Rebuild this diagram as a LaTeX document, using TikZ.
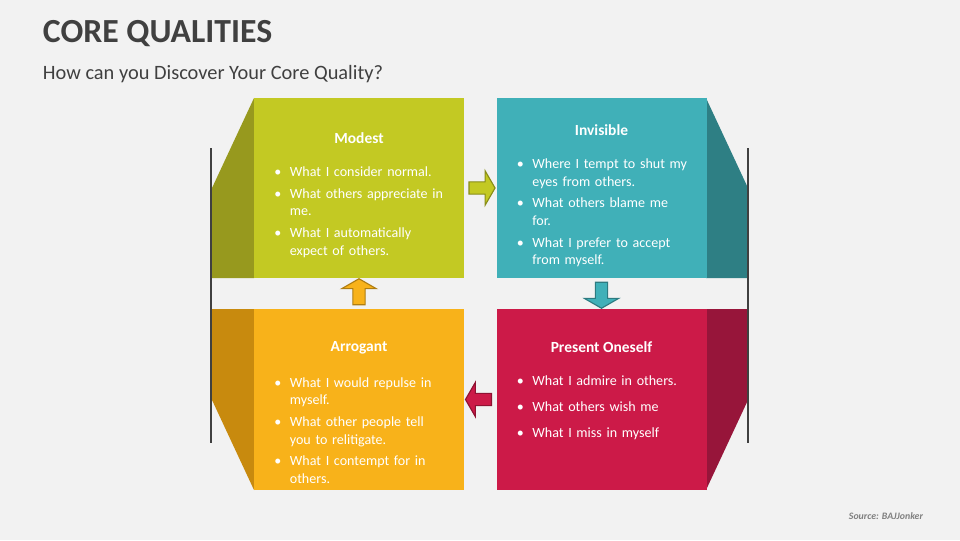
\documentclass[tikz,border=0pt]{standalone}
\usepackage{fontspec}
\setmainfont{Carlito}
\usepackage{enumitem}
\usetikzlibrary{shapes.arrows, positioning, calc}
\definecolor{bgc}{HTML}{F2F2F2}
\definecolor{ink}{HTML}{404040}
\definecolor{modc}{HTML}{C3C923}
\definecolor{modd}{HTML}{97991E}
\definecolor{invc}{HTML}{40B0B8}
\definecolor{invd}{HTML}{2E7F84}
\definecolor{prec}{HTML}{CC1A48}
\definecolor{pred}{HTML}{97153A}
\definecolor{arrc}{HTML}{F8B21A}
\definecolor{arrd}{HTML}{C88A0E}
\tikzset{
    quality/.style={rectangle, minimum width=5.25cm, minimum height=4.5cm, inner sep=0pt},
    heading/.style={font=\bfseries\fontsize{11}{13}\selectfont, text=white},
    points/.style={text=white, text width=4.3cm, align=left, inner sep=0pt, font=\fontsize{10}{12.5}\selectfont},
    flow/.style={single arrow, draw=#1!70!black, fill=#1, minimum height=0.65cm, inner sep=0.14cm,
        single arrow head extend=0.275cm, single arrow tip angle=120, line width=0.8pt},
    rail/.style={draw=ink, line width=1.8pt}
}
\setlist[itemize]{label=\textbullet, leftmargin=12pt, labelsep=6pt, itemsep=3pt, topsep=0pt, parsep=0pt}

\begin{document}
\begin{tikzpicture}
    \fill[bgc] (0,0) rectangle (24,13.5);
    \useasboundingbox (0,0) rectangle (24,13.5);

    % title
    \node[anchor=west, text=ink, font=\bfseries\fontsize{24}{28}\selectfont] (title) at (0.95,12.65) {CORE QUALITIES};
    \node[anchor=west, text=ink, font=\fontsize{14.5}{17}\selectfont] (subtitle) at (0.95,11.65) {How can you Discover Your Core Quality?};
    \node[anchor=east, text=gray, font=\bfseries\itshape\fontsize{7}{8}\selectfont] (source) at (23.2,0.6) {Source: BAJJonker};

    % side panels
    \fill[modd] (5.3,6.55) -- (5.3,8.8) -- (6.35,11.05) -- (6.35,6.55) -- cycle;
    \fill[invd] (18.7,6.55) -- (18.7,8.8) -- (17.65,11.05) -- (17.65,6.55) -- cycle;
    \fill[arrd] (5.3,5.775) -- (5.3,3.5) -- (6.35,1.25) -- (6.35,5.775) -- cycle;
    \fill[pred] (18.7,5.775) -- (18.7,3.5) -- (17.65,1.25) -- (17.65,5.775) -- cycle;
    \draw[rail] (5.275,9.8) -- (5.275,2.425);
    \draw[rail] (18.7,9.8) -- (18.7,2.425);

    % boxes
    \node[quality, fill=modc] (modest) at (8.975,8.8) {};
    \node[quality, fill=invc] (invisible) at (15.0375,8.8) {};
    \node[quality, fill=arrc, minimum height=4.525cm] (arrogant) at (8.975,3.5125) {};
    \node[quality, fill=prec, minimum height=4.525cm] (present) at (15.0375,3.5125) {};

    \node[heading, below=0.75cm of modest.north] (modesth) {Modest};
    \node[points, below=0.25cm of modesth] {\begin{itemize}
        \item What I consider normal.
        \item What others appreciate in me.
        \item What I automatically expect of others.
    \end{itemize}};

    \node[heading, below=0.55cm of invisible.north] (invisibleh) {Invisible};
    \node[points, below=0.25cm of invisibleh] {\begin{itemize}
        \item Where I tempt to shut my eyes from others.
        \item What others blame me for.
        \item What I prefer to accept from myself.
    \end{itemize}};

    \node[heading, below=0.7cm of arrogant.north] (arroganth) {Arrogant};
    \node[points, below=0.25cm of arroganth] {\begin{itemize}
        \item What I would repulse in myself.
        \item What other people tell you to relitigate.
        \item What I contempt for in others.
    \end{itemize}};

    \node[heading, below=0.7cm of present.north] (presenth) {Present Oneself};
    \node[points, below=0.25cm of presenth] {\begin{itemize}[itemsep=6pt]
        \item What I admire in others.
        \item What others wish me
        \item What I miss in myself
    \end{itemize}};

    % arrows
    \node[flow=modc] at ($(modest.east)!0.5!(invisible.west)$) {};
    \node[flow=invc, rotate=-90] at ($(invisible.south)!0.5!(present.north)$) {};
    \node[flow=prec, rotate=180] at ($(present.west)!0.5!(arrogant.east)$) {};
    \node[flow=arrc, rotate=90] at ($(arrogant.north)!0.5!(modest.south)$) {};
\end{tikzpicture}
\end{document}
